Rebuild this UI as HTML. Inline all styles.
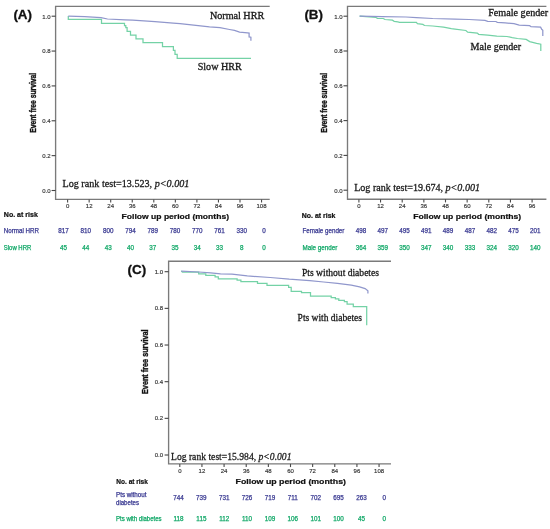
<!DOCTYPE html>
<html><head><meta charset="utf-8"><title>Kaplan-Meier curves</title>
<style>
html,body{margin:0;padding:0;background:#fff;}
body{width:550px;height:529px;overflow:hidden;}
svg{display:block;will-change:transform;}
</style></head>
<body>
<svg width="550" height="529" viewBox="0 0 550 529">
<rect width="550" height="529" fill="#fff"/>
<path d="M269.7,6.4 H55.6 V199.4 H269.7" fill="none" stroke="#7a7a7a" stroke-width="1.35"/>
<line x1="51.6" y1="190.50" x2="55.6" y2="190.50" stroke="#444" stroke-width="1.1"/>
<text x="50.60" y="192.80" font-family='"Liberation Sans", sans-serif' font-size="6" font-weight="normal" font-style="normal" fill="#333" text-anchor="end"  stroke="#333" stroke-width="0.15">0.0</text>
<line x1="51.6" y1="155.64" x2="55.6" y2="155.64" stroke="#444" stroke-width="1.1"/>
<text x="50.60" y="157.94" font-family='"Liberation Sans", sans-serif' font-size="6" font-weight="normal" font-style="normal" fill="#333" text-anchor="end"  stroke="#333" stroke-width="0.15">0.2</text>
<line x1="51.6" y1="120.78" x2="55.6" y2="120.78" stroke="#444" stroke-width="1.1"/>
<text x="50.60" y="123.08" font-family='"Liberation Sans", sans-serif' font-size="6" font-weight="normal" font-style="normal" fill="#333" text-anchor="end"  stroke="#333" stroke-width="0.15">0.4</text>
<line x1="51.6" y1="85.92" x2="55.6" y2="85.92" stroke="#444" stroke-width="1.1"/>
<text x="50.60" y="88.22" font-family='"Liberation Sans", sans-serif' font-size="6" font-weight="normal" font-style="normal" fill="#333" text-anchor="end"  stroke="#333" stroke-width="0.15">0.6</text>
<line x1="51.6" y1="51.06" x2="55.6" y2="51.06" stroke="#444" stroke-width="1.1"/>
<text x="50.60" y="53.36" font-family='"Liberation Sans", sans-serif' font-size="6" font-weight="normal" font-style="normal" fill="#333" text-anchor="end"  stroke="#333" stroke-width="0.15">0.8</text>
<line x1="51.6" y1="16.20" x2="55.6" y2="16.20" stroke="#444" stroke-width="1.1"/>
<text x="50.60" y="18.50" font-family='"Liberation Sans", sans-serif' font-size="6" font-weight="normal" font-style="normal" fill="#333" text-anchor="end"  stroke="#333" stroke-width="0.15">1.0</text>
<line x1="67.60" y1="199.4" x2="67.60" y2="202.6" stroke="#4a4a4a" stroke-width="1.1"/>
<text x="67.60" y="208.30" font-family='"Liberation Sans", sans-serif' font-size="6" font-weight="normal" font-style="normal" fill="#333" text-anchor="middle"  stroke="#333" stroke-width="0.15">0</text>
<line x1="89.15" y1="199.4" x2="89.15" y2="202.6" stroke="#4a4a4a" stroke-width="1.1"/>
<text x="89.15" y="208.30" font-family='"Liberation Sans", sans-serif' font-size="6" font-weight="normal" font-style="normal" fill="#333" text-anchor="middle"  stroke="#333" stroke-width="0.15">12</text>
<line x1="110.70" y1="199.4" x2="110.70" y2="202.6" stroke="#4a4a4a" stroke-width="1.1"/>
<text x="110.70" y="208.30" font-family='"Liberation Sans", sans-serif' font-size="6" font-weight="normal" font-style="normal" fill="#333" text-anchor="middle"  stroke="#333" stroke-width="0.15">24</text>
<line x1="132.25" y1="199.4" x2="132.25" y2="202.6" stroke="#4a4a4a" stroke-width="1.1"/>
<text x="132.25" y="208.30" font-family='"Liberation Sans", sans-serif' font-size="6" font-weight="normal" font-style="normal" fill="#333" text-anchor="middle"  stroke="#333" stroke-width="0.15">36</text>
<line x1="153.80" y1="199.4" x2="153.80" y2="202.6" stroke="#4a4a4a" stroke-width="1.1"/>
<text x="153.80" y="208.30" font-family='"Liberation Sans", sans-serif' font-size="6" font-weight="normal" font-style="normal" fill="#333" text-anchor="middle"  stroke="#333" stroke-width="0.15">48</text>
<line x1="175.35" y1="199.4" x2="175.35" y2="202.6" stroke="#4a4a4a" stroke-width="1.1"/>
<text x="175.35" y="208.30" font-family='"Liberation Sans", sans-serif' font-size="6" font-weight="normal" font-style="normal" fill="#333" text-anchor="middle"  stroke="#333" stroke-width="0.15">60</text>
<line x1="196.90" y1="199.4" x2="196.90" y2="202.6" stroke="#4a4a4a" stroke-width="1.1"/>
<text x="196.90" y="208.30" font-family='"Liberation Sans", sans-serif' font-size="6" font-weight="normal" font-style="normal" fill="#333" text-anchor="middle"  stroke="#333" stroke-width="0.15">72</text>
<line x1="218.45" y1="199.4" x2="218.45" y2="202.6" stroke="#4a4a4a" stroke-width="1.1"/>
<text x="218.45" y="208.30" font-family='"Liberation Sans", sans-serif' font-size="6" font-weight="normal" font-style="normal" fill="#333" text-anchor="middle"  stroke="#333" stroke-width="0.15">84</text>
<line x1="240.00" y1="199.4" x2="240.00" y2="202.6" stroke="#4a4a4a" stroke-width="1.1"/>
<text x="240.00" y="208.30" font-family='"Liberation Sans", sans-serif' font-size="6" font-weight="normal" font-style="normal" fill="#333" text-anchor="middle"  stroke="#333" stroke-width="0.15">96</text>
<line x1="261.55" y1="199.4" x2="261.55" y2="202.6" stroke="#4a4a4a" stroke-width="1.1"/>
<text x="261.55" y="208.30" font-family='"Liberation Sans", sans-serif' font-size="6" font-weight="normal" font-style="normal" fill="#333" text-anchor="middle"  stroke="#333" stroke-width="0.15">108</text>
<path d="M68.3,16.1 V19.4 H101.5 V23.3 H124.5 V25.5 H125.8 V27.7 H127.1 V31.3 H130.5 V35.1 H136 V38.9 H143 V42.7 H162.5 V46.6 H173.4 V50.3 H175 V54.3 H177.2 V58.4 H251" fill="none" stroke="#74d2a6" stroke-width="1.25" stroke-linejoin="miter"/>
<path d="M68.3,16.1 L84.6,16.6 L101,17.7 L107.5,19 L125,19.9 L132.7,20.2 L155,21.7 L173.2,23.1 L180,23.6 L191.4,24.9 L209.5,26.9 L220,27.6 L229.5,29.5 L234.5,30.4 L239.6,32.1 L247.6,32.9 L249.1,33.1 V36.9 L250.9,37.2 V40.7" fill="none" stroke="#9097cc" stroke-width="1.25" stroke-linejoin="miter"/>
<text x="0" y="0" font-family='"Liberation Sans", sans-serif' font-size="8.5" font-weight="bold" font-style="normal" fill="#111" text-anchor="middle" textLength="60.0" lengthAdjust="spacingAndGlyphs" transform="translate(35.6,102.8) rotate(-90)" stroke="#111" stroke-width="0.35">Event free survival</text>
<text x="13.4" y="19.4" font-family='"Liberation Sans", sans-serif' font-size="13.4" font-weight="bold" font-style="normal" fill="#111" text-anchor="start"  stroke="#111" stroke-width="0.3">(A)</text>
<text x="209.9" y="19.2" font-family='"Liberation Serif", serif' font-size="10" font-weight="normal" font-style="normal" fill="#1a1a1a" text-anchor="start" textLength="54.3" lengthAdjust="spacingAndGlyphs"  stroke="#1a1a1a" stroke-width="0.32">Normal HRR</text>
<text x="197.7" y="69.9" font-family='"Liberation Serif", serif' font-size="10.3" font-weight="normal" font-style="normal" fill="#1a1a1a" text-anchor="start" textLength="44.1" lengthAdjust="spacingAndGlyphs"  stroke="#1a1a1a" stroke-width="0.32">Slow HRR</text>
<text x="62.5" y="187.2" font-family='"Liberation Serif", serif' font-size="10" fill="#1a1a1a" stroke="#1a1a1a" stroke-width="0.28" textLength="126.9" lengthAdjust="spacingAndGlyphs">Log rank test=13.523, <tspan font-style="italic">p&lt;0.001</tspan></text>
<text x="121.6" y="219.0" font-family='"Liberation Sans", sans-serif' font-size="7.3" font-weight="bold" font-style="normal" fill="#111" text-anchor="start" textLength="107.4" lengthAdjust="spacingAndGlyphs"  stroke="#111" stroke-width="0.2">Follow up period (months)</text>
<text x="3.8" y="216.9" font-family='"Liberation Sans", sans-serif' font-size="6.5" font-weight="bold" font-style="normal" fill="#111" text-anchor="start" textLength="34.1" lengthAdjust="spacingAndGlyphs"  stroke="#111" stroke-width="0.2">No. at risk</text>
<text x="3.8" y="232.8" font-family='"Liberation Sans", sans-serif' font-size="6.3" font-weight="normal" font-style="normal" fill="#3a3a92" text-anchor="start" textLength="35.2" lengthAdjust="spacingAndGlyphs"  stroke="#3a3a92" stroke-width="0.25">Normal HRR</text>
<text x="63.60" y="232.7" font-family='"Liberation Sans", sans-serif' font-size="6.3" font-weight="normal" font-style="normal" fill="#3a3a92" text-anchor="middle"  stroke="#3a3a92" stroke-width="0.25">817</text>
<text x="85.87" y="232.7" font-family='"Liberation Sans", sans-serif' font-size="6.3" font-weight="normal" font-style="normal" fill="#3a3a92" text-anchor="middle"  stroke="#3a3a92" stroke-width="0.25">810</text>
<text x="108.14" y="232.7" font-family='"Liberation Sans", sans-serif' font-size="6.3" font-weight="normal" font-style="normal" fill="#3a3a92" text-anchor="middle"  stroke="#3a3a92" stroke-width="0.25">800</text>
<text x="130.41" y="232.7" font-family='"Liberation Sans", sans-serif' font-size="6.3" font-weight="normal" font-style="normal" fill="#3a3a92" text-anchor="middle"  stroke="#3a3a92" stroke-width="0.25">794</text>
<text x="152.68" y="232.7" font-family='"Liberation Sans", sans-serif' font-size="6.3" font-weight="normal" font-style="normal" fill="#3a3a92" text-anchor="middle"  stroke="#3a3a92" stroke-width="0.25">789</text>
<text x="174.95" y="232.7" font-family='"Liberation Sans", sans-serif' font-size="6.3" font-weight="normal" font-style="normal" fill="#3a3a92" text-anchor="middle"  stroke="#3a3a92" stroke-width="0.25">780</text>
<text x="197.22" y="232.7" font-family='"Liberation Sans", sans-serif' font-size="6.3" font-weight="normal" font-style="normal" fill="#3a3a92" text-anchor="middle"  stroke="#3a3a92" stroke-width="0.25">770</text>
<text x="219.49" y="232.7" font-family='"Liberation Sans", sans-serif' font-size="6.3" font-weight="normal" font-style="normal" fill="#3a3a92" text-anchor="middle"  stroke="#3a3a92" stroke-width="0.25">761</text>
<text x="241.76" y="232.7" font-family='"Liberation Sans", sans-serif' font-size="6.3" font-weight="normal" font-style="normal" fill="#3a3a92" text-anchor="middle"  stroke="#3a3a92" stroke-width="0.25">330</text>
<text x="264.03" y="232.7" font-family='"Liberation Sans", sans-serif' font-size="6.3" font-weight="normal" font-style="normal" fill="#3a3a92" text-anchor="middle"  stroke="#3a3a92" stroke-width="0.25">0</text>
<text x="3.8" y="249.9" font-family='"Liberation Sans", sans-serif' font-size="6.3" font-weight="normal" font-style="normal" fill="#12a868" text-anchor="start" textLength="27.5" lengthAdjust="spacingAndGlyphs"  stroke="#12a868" stroke-width="0.25">Slow HRR</text>
<text x="63.60" y="249.8" font-family='"Liberation Sans", sans-serif' font-size="6.3" font-weight="normal" font-style="normal" fill="#12a868" text-anchor="middle"  stroke="#12a868" stroke-width="0.25">45</text>
<text x="85.87" y="249.8" font-family='"Liberation Sans", sans-serif' font-size="6.3" font-weight="normal" font-style="normal" fill="#12a868" text-anchor="middle"  stroke="#12a868" stroke-width="0.25">44</text>
<text x="108.14" y="249.8" font-family='"Liberation Sans", sans-serif' font-size="6.3" font-weight="normal" font-style="normal" fill="#12a868" text-anchor="middle"  stroke="#12a868" stroke-width="0.25">43</text>
<text x="130.41" y="249.8" font-family='"Liberation Sans", sans-serif' font-size="6.3" font-weight="normal" font-style="normal" fill="#12a868" text-anchor="middle"  stroke="#12a868" stroke-width="0.25">40</text>
<text x="152.68" y="249.8" font-family='"Liberation Sans", sans-serif' font-size="6.3" font-weight="normal" font-style="normal" fill="#12a868" text-anchor="middle"  stroke="#12a868" stroke-width="0.25">37</text>
<text x="174.95" y="249.8" font-family='"Liberation Sans", sans-serif' font-size="6.3" font-weight="normal" font-style="normal" fill="#12a868" text-anchor="middle"  stroke="#12a868" stroke-width="0.25">35</text>
<text x="197.22" y="249.8" font-family='"Liberation Sans", sans-serif' font-size="6.3" font-weight="normal" font-style="normal" fill="#12a868" text-anchor="middle"  stroke="#12a868" stroke-width="0.25">34</text>
<text x="219.49" y="249.8" font-family='"Liberation Sans", sans-serif' font-size="6.3" font-weight="normal" font-style="normal" fill="#12a868" text-anchor="middle"  stroke="#12a868" stroke-width="0.25">33</text>
<text x="241.76" y="249.8" font-family='"Liberation Sans", sans-serif' font-size="6.3" font-weight="normal" font-style="normal" fill="#12a868" text-anchor="middle"  stroke="#12a868" stroke-width="0.25">8</text>
<text x="264.03" y="249.8" font-family='"Liberation Sans", sans-serif' font-size="6.3" font-weight="normal" font-style="normal" fill="#12a868" text-anchor="middle"  stroke="#12a868" stroke-width="0.25">0</text>
<path d="M546.4,6.4 H347.5 V199.2 H546.4" fill="none" stroke="#7a7a7a" stroke-width="1.35"/>
<line x1="343.5" y1="190.20" x2="347.5" y2="190.20" stroke="#444" stroke-width="1.1"/>
<text x="342.50" y="192.60" font-family='"Liberation Sans", sans-serif' font-size="6" font-weight="normal" font-style="normal" fill="#333" text-anchor="end"  stroke="#333" stroke-width="0.15">0.0</text>
<line x1="343.5" y1="155.40" x2="347.5" y2="155.40" stroke="#444" stroke-width="1.1"/>
<text x="342.50" y="157.80" font-family='"Liberation Sans", sans-serif' font-size="6" font-weight="normal" font-style="normal" fill="#333" text-anchor="end"  stroke="#333" stroke-width="0.15">0.2</text>
<line x1="343.5" y1="120.60" x2="347.5" y2="120.60" stroke="#444" stroke-width="1.1"/>
<text x="342.50" y="123.00" font-family='"Liberation Sans", sans-serif' font-size="6" font-weight="normal" font-style="normal" fill="#333" text-anchor="end"  stroke="#333" stroke-width="0.15">0.4</text>
<line x1="343.5" y1="85.80" x2="347.5" y2="85.80" stroke="#444" stroke-width="1.1"/>
<text x="342.50" y="88.20" font-family='"Liberation Sans", sans-serif' font-size="6" font-weight="normal" font-style="normal" fill="#333" text-anchor="end"  stroke="#333" stroke-width="0.15">0.6</text>
<line x1="343.5" y1="51.00" x2="347.5" y2="51.00" stroke="#444" stroke-width="1.1"/>
<text x="342.50" y="53.40" font-family='"Liberation Sans", sans-serif' font-size="6" font-weight="normal" font-style="normal" fill="#333" text-anchor="end"  stroke="#333" stroke-width="0.15">0.8</text>
<line x1="343.5" y1="16.20" x2="347.5" y2="16.20" stroke="#444" stroke-width="1.1"/>
<text x="342.50" y="18.60" font-family='"Liberation Sans", sans-serif' font-size="6" font-weight="normal" font-style="normal" fill="#333" text-anchor="end"  stroke="#333" stroke-width="0.15">1.0</text>
<line x1="358.90" y1="199.2" x2="358.90" y2="202.39999999999998" stroke="#4a4a4a" stroke-width="1.1"/>
<text x="358.90" y="208.30" font-family='"Liberation Sans", sans-serif' font-size="6" font-weight="normal" font-style="normal" fill="#333" text-anchor="middle"  stroke="#333" stroke-width="0.15">0</text>
<line x1="380.55" y1="199.2" x2="380.55" y2="202.39999999999998" stroke="#4a4a4a" stroke-width="1.1"/>
<text x="380.55" y="208.30" font-family='"Liberation Sans", sans-serif' font-size="6" font-weight="normal" font-style="normal" fill="#333" text-anchor="middle"  stroke="#333" stroke-width="0.15">12</text>
<line x1="402.20" y1="199.2" x2="402.20" y2="202.39999999999998" stroke="#4a4a4a" stroke-width="1.1"/>
<text x="402.20" y="208.30" font-family='"Liberation Sans", sans-serif' font-size="6" font-weight="normal" font-style="normal" fill="#333" text-anchor="middle"  stroke="#333" stroke-width="0.15">24</text>
<line x1="423.85" y1="199.2" x2="423.85" y2="202.39999999999998" stroke="#4a4a4a" stroke-width="1.1"/>
<text x="423.85" y="208.30" font-family='"Liberation Sans", sans-serif' font-size="6" font-weight="normal" font-style="normal" fill="#333" text-anchor="middle"  stroke="#333" stroke-width="0.15">36</text>
<line x1="445.50" y1="199.2" x2="445.50" y2="202.39999999999998" stroke="#4a4a4a" stroke-width="1.1"/>
<text x="445.50" y="208.30" font-family='"Liberation Sans", sans-serif' font-size="6" font-weight="normal" font-style="normal" fill="#333" text-anchor="middle"  stroke="#333" stroke-width="0.15">48</text>
<line x1="467.15" y1="199.2" x2="467.15" y2="202.39999999999998" stroke="#4a4a4a" stroke-width="1.1"/>
<text x="467.15" y="208.30" font-family='"Liberation Sans", sans-serif' font-size="6" font-weight="normal" font-style="normal" fill="#333" text-anchor="middle"  stroke="#333" stroke-width="0.15">60</text>
<line x1="488.80" y1="199.2" x2="488.80" y2="202.39999999999998" stroke="#4a4a4a" stroke-width="1.1"/>
<text x="488.80" y="208.30" font-family='"Liberation Sans", sans-serif' font-size="6" font-weight="normal" font-style="normal" fill="#333" text-anchor="middle"  stroke="#333" stroke-width="0.15">72</text>
<line x1="510.45" y1="199.2" x2="510.45" y2="202.39999999999998" stroke="#4a4a4a" stroke-width="1.1"/>
<text x="510.45" y="208.30" font-family='"Liberation Sans", sans-serif' font-size="6" font-weight="normal" font-style="normal" fill="#333" text-anchor="middle"  stroke="#333" stroke-width="0.15">84</text>
<line x1="532.10" y1="199.2" x2="532.10" y2="202.39999999999998" stroke="#4a4a4a" stroke-width="1.1"/>
<text x="532.10" y="208.30" font-family='"Liberation Sans", sans-serif' font-size="6" font-weight="normal" font-style="normal" fill="#333" text-anchor="middle"  stroke="#333" stroke-width="0.15">96</text>
<path d="M359.6,16.1 L366,16.7 L376,17.5 L377.4,18.4 L383.3,18.5 L385,19.5 L392.4,20.2 L394.2,21.3 L397.8,21.8 L399.6,22.3 L416.4,22.4 L417.4,23.6 L422.9,24.4 L424.5,25.5 L432.7,26 L443.6,27.1 L451.3,28.7 L455,29.1 L465.9,30.5 L467.7,32.1 L477.3,33.1 L478.6,34.3 L487.7,35.2 L496.8,36.1 L507,36.5 L512.2,37.6 L517.5,38.5 L526.2,39.4 L529.7,41.6 L536.6,43.3 L540.8,44.2 V51" fill="none" stroke="#74d2a6" stroke-width="1.25" stroke-linejoin="miter"/>
<path d="M359.6,16.1 L382.3,16.6 L406,17 L416.4,17.7 L432.7,18.5 L455,19.1 L469.1,19.5 L485,20.3 L487.7,21.3 L495.9,21.5 L497.3,22.3 L505.2,22.8 L514,23.7 L519.2,25.2 L529.7,25.7 L531,26.7 L540.6,27.2 L541.7,29.3 L542.8,30.2 V35.9" fill="none" stroke="#9097cc" stroke-width="1.25" stroke-linejoin="miter"/>
<text x="0" y="0" font-family='"Liberation Sans", sans-serif' font-size="8.5" font-weight="bold" font-style="normal" fill="#111" text-anchor="middle" textLength="59.9" lengthAdjust="spacingAndGlyphs" transform="translate(326.9,102.9) rotate(-90)" stroke="#111" stroke-width="0.35">Event free survival</text>
<text x="304.4" y="19.4" font-family='"Liberation Sans", sans-serif' font-size="13.4" font-weight="bold" font-style="normal" fill="#111" text-anchor="start"  stroke="#111" stroke-width="0.3">(B)</text>
<text x="488.2" y="16.0" font-family='"Liberation Serif", serif' font-size="10" font-weight="normal" font-style="normal" fill="#1a1a1a" text-anchor="start" textLength="60" lengthAdjust="spacingAndGlyphs"  stroke="#1a1a1a" stroke-width="0.32">Female gender</text>
<text x="470.5" y="49.5" font-family='"Liberation Serif", serif' font-size="10" font-weight="normal" font-style="normal" fill="#1a1a1a" text-anchor="start" textLength="50.5" lengthAdjust="spacingAndGlyphs"  stroke="#1a1a1a" stroke-width="0.32">Male gender</text>
<text x="354.2" y="191.4" font-family='"Liberation Serif", serif' font-size="9.8" fill="#1a1a1a" stroke="#1a1a1a" stroke-width="0.28" textLength="125.8" lengthAdjust="spacingAndGlyphs">Log rank test=19.674, <tspan font-style="italic">p&lt;0.001</tspan></text>
<text x="413.2" y="219.0" font-family='"Liberation Sans", sans-serif' font-size="7.3" font-weight="bold" font-style="normal" fill="#111" text-anchor="start" textLength="108" lengthAdjust="spacingAndGlyphs"  stroke="#111" stroke-width="0.2">Follow up period (months)</text>
<text x="301.8" y="217.6" font-family='"Liberation Sans", sans-serif' font-size="6.5" font-weight="bold" font-style="normal" fill="#111" text-anchor="start" textLength="33.6" lengthAdjust="spacingAndGlyphs"  stroke="#111" stroke-width="0.2">No. at risk</text>
<text x="302.5" y="232.9" font-family='"Liberation Sans", sans-serif' font-size="6.3" font-weight="normal" font-style="normal" fill="#3a3a92" text-anchor="start" textLength="41.9" lengthAdjust="spacingAndGlyphs"  stroke="#3a3a92" stroke-width="0.25">Female gender</text>
<text x="360.90" y="232.9" font-family='"Liberation Sans", sans-serif' font-size="6.3" font-weight="normal" font-style="normal" fill="#3a3a92" text-anchor="middle"  stroke="#3a3a92" stroke-width="0.25">498</text>
<text x="382.70" y="232.9" font-family='"Liberation Sans", sans-serif' font-size="6.3" font-weight="normal" font-style="normal" fill="#3a3a92" text-anchor="middle"  stroke="#3a3a92" stroke-width="0.25">497</text>
<text x="404.50" y="232.9" font-family='"Liberation Sans", sans-serif' font-size="6.3" font-weight="normal" font-style="normal" fill="#3a3a92" text-anchor="middle"  stroke="#3a3a92" stroke-width="0.25">495</text>
<text x="426.30" y="232.9" font-family='"Liberation Sans", sans-serif' font-size="6.3" font-weight="normal" font-style="normal" fill="#3a3a92" text-anchor="middle"  stroke="#3a3a92" stroke-width="0.25">491</text>
<text x="448.10" y="232.9" font-family='"Liberation Sans", sans-serif' font-size="6.3" font-weight="normal" font-style="normal" fill="#3a3a92" text-anchor="middle"  stroke="#3a3a92" stroke-width="0.25">489</text>
<text x="469.90" y="232.9" font-family='"Liberation Sans", sans-serif' font-size="6.3" font-weight="normal" font-style="normal" fill="#3a3a92" text-anchor="middle"  stroke="#3a3a92" stroke-width="0.25">487</text>
<text x="491.70" y="232.9" font-family='"Liberation Sans", sans-serif' font-size="6.3" font-weight="normal" font-style="normal" fill="#3a3a92" text-anchor="middle"  stroke="#3a3a92" stroke-width="0.25">482</text>
<text x="513.50" y="232.9" font-family='"Liberation Sans", sans-serif' font-size="6.3" font-weight="normal" font-style="normal" fill="#3a3a92" text-anchor="middle"  stroke="#3a3a92" stroke-width="0.25">475</text>
<text x="535.30" y="232.9" font-family='"Liberation Sans", sans-serif' font-size="6.3" font-weight="normal" font-style="normal" fill="#3a3a92" text-anchor="middle"  stroke="#3a3a92" stroke-width="0.25">201</text>
<text x="302.5" y="250.2" font-family='"Liberation Sans", sans-serif' font-size="6.3" font-weight="normal" font-style="normal" fill="#12a868" text-anchor="start" textLength="34.8" lengthAdjust="spacingAndGlyphs"  stroke="#12a868" stroke-width="0.25">Male gender</text>
<text x="360.90" y="250.2" font-family='"Liberation Sans", sans-serif' font-size="6.3" font-weight="normal" font-style="normal" fill="#12a868" text-anchor="middle"  stroke="#12a868" stroke-width="0.25">364</text>
<text x="382.70" y="250.2" font-family='"Liberation Sans", sans-serif' font-size="6.3" font-weight="normal" font-style="normal" fill="#12a868" text-anchor="middle"  stroke="#12a868" stroke-width="0.25">359</text>
<text x="404.50" y="250.2" font-family='"Liberation Sans", sans-serif' font-size="6.3" font-weight="normal" font-style="normal" fill="#12a868" text-anchor="middle"  stroke="#12a868" stroke-width="0.25">350</text>
<text x="426.30" y="250.2" font-family='"Liberation Sans", sans-serif' font-size="6.3" font-weight="normal" font-style="normal" fill="#12a868" text-anchor="middle"  stroke="#12a868" stroke-width="0.25">347</text>
<text x="448.10" y="250.2" font-family='"Liberation Sans", sans-serif' font-size="6.3" font-weight="normal" font-style="normal" fill="#12a868" text-anchor="middle"  stroke="#12a868" stroke-width="0.25">340</text>
<text x="469.90" y="250.2" font-family='"Liberation Sans", sans-serif' font-size="6.3" font-weight="normal" font-style="normal" fill="#12a868" text-anchor="middle"  stroke="#12a868" stroke-width="0.25">333</text>
<text x="491.70" y="250.2" font-family='"Liberation Sans", sans-serif' font-size="6.3" font-weight="normal" font-style="normal" fill="#12a868" text-anchor="middle"  stroke="#12a868" stroke-width="0.25">324</text>
<text x="513.50" y="250.2" font-family='"Liberation Sans", sans-serif' font-size="6.3" font-weight="normal" font-style="normal" fill="#12a868" text-anchor="middle"  stroke="#12a868" stroke-width="0.25">320</text>
<text x="535.30" y="250.2" font-family='"Liberation Sans", sans-serif' font-size="6.3" font-weight="normal" font-style="normal" fill="#12a868" text-anchor="middle"  stroke="#12a868" stroke-width="0.25">140</text>
<path d="M391,261.2 H168.6 V463.9 H391" fill="none" stroke="#7a7a7a" stroke-width="1.35"/>
<line x1="164.6" y1="455.00" x2="168.6" y2="455.00" stroke="#444" stroke-width="1.1"/>
<text x="163.00" y="457.10" font-family='"Liberation Sans", sans-serif' font-size="6" font-weight="normal" font-style="normal" fill="#333" text-anchor="end"  stroke="#333" stroke-width="0.15">0.0</text>
<line x1="164.6" y1="418.34" x2="168.6" y2="418.34" stroke="#444" stroke-width="1.1"/>
<text x="163.00" y="420.44" font-family='"Liberation Sans", sans-serif' font-size="6" font-weight="normal" font-style="normal" fill="#333" text-anchor="end"  stroke="#333" stroke-width="0.15">0.2</text>
<line x1="164.6" y1="381.68" x2="168.6" y2="381.68" stroke="#444" stroke-width="1.1"/>
<text x="163.00" y="383.78" font-family='"Liberation Sans", sans-serif' font-size="6" font-weight="normal" font-style="normal" fill="#333" text-anchor="end"  stroke="#333" stroke-width="0.15">0.4</text>
<line x1="164.6" y1="345.02" x2="168.6" y2="345.02" stroke="#444" stroke-width="1.1"/>
<text x="163.00" y="347.12" font-family='"Liberation Sans", sans-serif' font-size="6" font-weight="normal" font-style="normal" fill="#333" text-anchor="end"  stroke="#333" stroke-width="0.15">0.6</text>
<line x1="164.6" y1="308.36" x2="168.6" y2="308.36" stroke="#444" stroke-width="1.1"/>
<text x="163.00" y="310.46" font-family='"Liberation Sans", sans-serif' font-size="6" font-weight="normal" font-style="normal" fill="#333" text-anchor="end"  stroke="#333" stroke-width="0.15">0.8</text>
<line x1="164.6" y1="271.70" x2="168.6" y2="271.70" stroke="#444" stroke-width="1.1"/>
<text x="163.00" y="273.80" font-family='"Liberation Sans", sans-serif' font-size="6" font-weight="normal" font-style="normal" fill="#333" text-anchor="end"  stroke="#333" stroke-width="0.15">1.0</text>
<line x1="179.80" y1="463.9" x2="179.80" y2="467.09999999999997" stroke="#4a4a4a" stroke-width="1.1"/>
<text x="179.80" y="473.00" font-family='"Liberation Sans", sans-serif' font-size="6" font-weight="normal" font-style="normal" fill="#333" text-anchor="middle"  stroke="#333" stroke-width="0.15">0</text>
<line x1="201.94" y1="463.9" x2="201.94" y2="467.09999999999997" stroke="#4a4a4a" stroke-width="1.1"/>
<text x="201.94" y="473.00" font-family='"Liberation Sans", sans-serif' font-size="6" font-weight="normal" font-style="normal" fill="#333" text-anchor="middle"  stroke="#333" stroke-width="0.15">12</text>
<line x1="224.08" y1="463.9" x2="224.08" y2="467.09999999999997" stroke="#4a4a4a" stroke-width="1.1"/>
<text x="224.08" y="473.00" font-family='"Liberation Sans", sans-serif' font-size="6" font-weight="normal" font-style="normal" fill="#333" text-anchor="middle"  stroke="#333" stroke-width="0.15">24</text>
<line x1="246.22" y1="463.9" x2="246.22" y2="467.09999999999997" stroke="#4a4a4a" stroke-width="1.1"/>
<text x="246.22" y="473.00" font-family='"Liberation Sans", sans-serif' font-size="6" font-weight="normal" font-style="normal" fill="#333" text-anchor="middle"  stroke="#333" stroke-width="0.15">36</text>
<line x1="268.36" y1="463.9" x2="268.36" y2="467.09999999999997" stroke="#4a4a4a" stroke-width="1.1"/>
<text x="268.36" y="473.00" font-family='"Liberation Sans", sans-serif' font-size="6" font-weight="normal" font-style="normal" fill="#333" text-anchor="middle"  stroke="#333" stroke-width="0.15">48</text>
<line x1="290.50" y1="463.9" x2="290.50" y2="467.09999999999997" stroke="#4a4a4a" stroke-width="1.1"/>
<text x="290.50" y="473.00" font-family='"Liberation Sans", sans-serif' font-size="6" font-weight="normal" font-style="normal" fill="#333" text-anchor="middle"  stroke="#333" stroke-width="0.15">60</text>
<line x1="312.64" y1="463.9" x2="312.64" y2="467.09999999999997" stroke="#4a4a4a" stroke-width="1.1"/>
<text x="312.64" y="473.00" font-family='"Liberation Sans", sans-serif' font-size="6" font-weight="normal" font-style="normal" fill="#333" text-anchor="middle"  stroke="#333" stroke-width="0.15">72</text>
<line x1="334.78" y1="463.9" x2="334.78" y2="467.09999999999997" stroke="#4a4a4a" stroke-width="1.1"/>
<text x="334.78" y="473.00" font-family='"Liberation Sans", sans-serif' font-size="6" font-weight="normal" font-style="normal" fill="#333" text-anchor="middle"  stroke="#333" stroke-width="0.15">84</text>
<line x1="356.92" y1="463.9" x2="356.92" y2="467.09999999999997" stroke="#4a4a4a" stroke-width="1.1"/>
<text x="356.92" y="473.00" font-family='"Liberation Sans", sans-serif' font-size="6" font-weight="normal" font-style="normal" fill="#333" text-anchor="middle"  stroke="#333" stroke-width="0.15">96</text>
<line x1="379.06" y1="463.9" x2="379.06" y2="467.09999999999997" stroke="#4a4a4a" stroke-width="1.1"/>
<text x="379.06" y="473.00" font-family='"Liberation Sans", sans-serif' font-size="6" font-weight="normal" font-style="normal" fill="#333" text-anchor="middle"  stroke="#333" stroke-width="0.15">108</text>
<path d="M181.3,271.1 L182.4,272 H198.7 V273.9 H205.8 V275.3 H215.1 V276.9 H218.3 V278.9 H237.1 V280.1 H240.9 V281.7 H257.5 V283.3 H267 V285.4 H288.6 V287.3 H291.2 V291.3 H301.5 V292.7 H310.5 V296.2 H331.2 V297.6 H335.4 V298.9 H338.8 V300.3 H344.4 V301.7 H347.1 V304.1 H353.3 V306.5 H366.7 V325.2" fill="none" stroke="#74d2a6" stroke-width="1.25" stroke-linejoin="miter"/>
<path d="M181.3,271.1 L198.7,272 L210.7,272.8 L220.5,273.9 L232,274.1 L247.3,275.9 L270.2,277.5 L289.3,279.2 L296,279.6 L309.8,280.6 L323.6,282 L337.5,283.3 L351.3,285.1 L359.6,286.9 L365.1,288.6 L367.9,290.7 V293.4" fill="none" stroke="#9097cc" stroke-width="1.25" stroke-linejoin="miter"/>
<text x="0" y="0" font-family='"Liberation Sans", sans-serif' font-size="8.5" font-weight="bold" font-style="normal" fill="#111" text-anchor="middle" textLength="64.6" lengthAdjust="spacingAndGlyphs" transform="translate(147.5,361.7) rotate(-90)" stroke="#111" stroke-width="0.35">Event free survival</text>
<text x="127.6" y="273.8" font-family='"Liberation Sans", sans-serif' font-size="13.4" font-weight="bold" font-style="normal" fill="#111" text-anchor="start"  stroke="#111" stroke-width="0.3">(C)</text>
<text x="302" y="275.6" font-family='"Liberation Serif", serif' font-size="10.5" font-weight="normal" font-style="normal" fill="#1a1a1a" text-anchor="start" textLength="77" lengthAdjust="spacingAndGlyphs"  stroke="#1a1a1a" stroke-width="0.32">Pts without diabetes</text>
<text x="297.6" y="320.6" font-family='"Liberation Serif", serif' font-size="10.5" font-weight="normal" font-style="normal" fill="#1a1a1a" text-anchor="start" textLength="64.4" lengthAdjust="spacingAndGlyphs"  stroke="#1a1a1a" stroke-width="0.32">Pts with diabetes</text>
<text x="171" y="460" font-family='"Liberation Serif", serif' font-size="10.5" fill="#1a1a1a" stroke="#1a1a1a" stroke-width="0.28" textLength="120.5" lengthAdjust="spacingAndGlyphs">Log rank test=15.984, <tspan font-style="italic">p&lt;0.001</tspan></text>
<text x="235.6" y="484.3" font-family='"Liberation Sans", sans-serif' font-size="7.3" font-weight="bold" font-style="normal" fill="#111" text-anchor="start" textLength="110.4" lengthAdjust="spacingAndGlyphs"  stroke="#111" stroke-width="0.2">Follow up period (months)</text>
<text x="116.3" y="483.6" font-family='"Liberation Sans", sans-serif' font-size="6.5" font-weight="bold" font-style="normal" fill="#111" text-anchor="start" textLength="31.6" lengthAdjust="spacingAndGlyphs"  stroke="#111" stroke-width="0.2">No. at risk</text>
<text x="116" y="496.8" font-family='"Liberation Sans", sans-serif' font-size="6.3" font-weight="normal" font-style="normal" fill="#3a3a92" text-anchor="start" textLength="30.5" lengthAdjust="spacingAndGlyphs"  stroke="#3a3a92" stroke-width="0.25">Pts without</text>
<text x="116" y="505.0" font-family='"Liberation Sans", sans-serif' font-size="6.3" font-weight="normal" font-style="normal" fill="#3a3a92" text-anchor="start" textLength="23" lengthAdjust="spacingAndGlyphs"  stroke="#3a3a92" stroke-width="0.25">diabetes</text>
<text x="178.50" y="500.0" font-family='"Liberation Sans", sans-serif' font-size="6.3" font-weight="normal" font-style="normal" fill="#3a3a92" text-anchor="middle"  stroke="#3a3a92" stroke-width="0.25">744</text>
<text x="201.37" y="500.0" font-family='"Liberation Sans", sans-serif' font-size="6.3" font-weight="normal" font-style="normal" fill="#3a3a92" text-anchor="middle"  stroke="#3a3a92" stroke-width="0.25">739</text>
<text x="224.24" y="500.0" font-family='"Liberation Sans", sans-serif' font-size="6.3" font-weight="normal" font-style="normal" fill="#3a3a92" text-anchor="middle"  stroke="#3a3a92" stroke-width="0.25">731</text>
<text x="247.11" y="500.0" font-family='"Liberation Sans", sans-serif' font-size="6.3" font-weight="normal" font-style="normal" fill="#3a3a92" text-anchor="middle"  stroke="#3a3a92" stroke-width="0.25">726</text>
<text x="269.98" y="500.0" font-family='"Liberation Sans", sans-serif' font-size="6.3" font-weight="normal" font-style="normal" fill="#3a3a92" text-anchor="middle"  stroke="#3a3a92" stroke-width="0.25">719</text>
<text x="292.85" y="500.0" font-family='"Liberation Sans", sans-serif' font-size="6.3" font-weight="normal" font-style="normal" fill="#3a3a92" text-anchor="middle"  stroke="#3a3a92" stroke-width="0.25">711</text>
<text x="315.72" y="500.0" font-family='"Liberation Sans", sans-serif' font-size="6.3" font-weight="normal" font-style="normal" fill="#3a3a92" text-anchor="middle"  stroke="#3a3a92" stroke-width="0.25">702</text>
<text x="338.59" y="500.0" font-family='"Liberation Sans", sans-serif' font-size="6.3" font-weight="normal" font-style="normal" fill="#3a3a92" text-anchor="middle"  stroke="#3a3a92" stroke-width="0.25">695</text>
<text x="361.46" y="500.0" font-family='"Liberation Sans", sans-serif' font-size="6.3" font-weight="normal" font-style="normal" fill="#3a3a92" text-anchor="middle"  stroke="#3a3a92" stroke-width="0.25">263</text>
<text x="384.33" y="500.0" font-family='"Liberation Sans", sans-serif' font-size="6.3" font-weight="normal" font-style="normal" fill="#3a3a92" text-anchor="middle"  stroke="#3a3a92" stroke-width="0.25">0</text>
<text x="116" y="521.4" font-family='"Liberation Sans", sans-serif' font-size="6.3" font-weight="normal" font-style="normal" fill="#12a868" text-anchor="start" textLength="45.6" lengthAdjust="spacingAndGlyphs"  stroke="#12a868" stroke-width="0.25">Pts with diabetes</text>
<text x="178.50" y="520.7" font-family='"Liberation Sans", sans-serif' font-size="6.3" font-weight="normal" font-style="normal" fill="#12a868" text-anchor="middle"  stroke="#12a868" stroke-width="0.25">118</text>
<text x="201.37" y="520.7" font-family='"Liberation Sans", sans-serif' font-size="6.3" font-weight="normal" font-style="normal" fill="#12a868" text-anchor="middle"  stroke="#12a868" stroke-width="0.25">115</text>
<text x="224.24" y="520.7" font-family='"Liberation Sans", sans-serif' font-size="6.3" font-weight="normal" font-style="normal" fill="#12a868" text-anchor="middle"  stroke="#12a868" stroke-width="0.25">112</text>
<text x="247.11" y="520.7" font-family='"Liberation Sans", sans-serif' font-size="6.3" font-weight="normal" font-style="normal" fill="#12a868" text-anchor="middle"  stroke="#12a868" stroke-width="0.25">110</text>
<text x="269.98" y="520.7" font-family='"Liberation Sans", sans-serif' font-size="6.3" font-weight="normal" font-style="normal" fill="#12a868" text-anchor="middle"  stroke="#12a868" stroke-width="0.25">109</text>
<text x="292.85" y="520.7" font-family='"Liberation Sans", sans-serif' font-size="6.3" font-weight="normal" font-style="normal" fill="#12a868" text-anchor="middle"  stroke="#12a868" stroke-width="0.25">106</text>
<text x="315.72" y="520.7" font-family='"Liberation Sans", sans-serif' font-size="6.3" font-weight="normal" font-style="normal" fill="#12a868" text-anchor="middle"  stroke="#12a868" stroke-width="0.25">101</text>
<text x="338.59" y="520.7" font-family='"Liberation Sans", sans-serif' font-size="6.3" font-weight="normal" font-style="normal" fill="#12a868" text-anchor="middle"  stroke="#12a868" stroke-width="0.25">100</text>
<text x="361.46" y="520.7" font-family='"Liberation Sans", sans-serif' font-size="6.3" font-weight="normal" font-style="normal" fill="#12a868" text-anchor="middle"  stroke="#12a868" stroke-width="0.25">45</text>
<text x="384.33" y="520.7" font-family='"Liberation Sans", sans-serif' font-size="6.3" font-weight="normal" font-style="normal" fill="#12a868" text-anchor="middle"  stroke="#12a868" stroke-width="0.25">0</text>
</svg>
</body></html>
